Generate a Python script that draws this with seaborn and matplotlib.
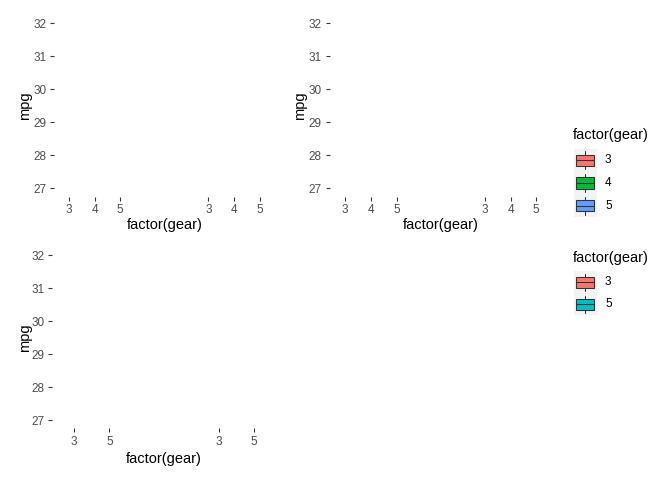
import matplotlib
matplotlib.use("Agg")
import matplotlib.pyplot as plt
import seaborn as sns
from matplotlib.patches import Rectangle

# ---- data ----
gear_levels_a = ["3", "4", "5"]
gear_levels_b = ["3", "5"]
mpg_ticks = [27, 28, 29, 30, 31, 32]
mpg_limits = (26.75, 32.25)
colors_a = ["#F8766D", "#00BA38", "#619CFF"]
colors_b = ["#F8766D", "#00BFC4"]
x_title = "factor(gear)"
y_title = "mpg"
legend_title = "factor(gear)"

sns.set_theme(style="white")
plt.rcParams["font.family"] = ["Liberation Sans", "DejaVu Sans"]

W, H = 672, 480
fig = plt.figure(figsize=(7, 5), dpi=96)
fig.patch.set_facecolor("white")

def px_axes(x0, x1, y0, y1, **kw):
    return fig.add_axes([x0 / W, 1 - y1 / H, (x1 - x0) / W, (y1 - y0) / H], **kw)

def style_panel(ax, levels, show_y):
    n = len(levels)
    ax.set_xlim(-0.6, n - 1 + 0.6)
    ax.set_ylim(*mpg_limits)
    ax.set_xticks(range(n))
    ax.set_xticklabels(levels)
    ax.set_facecolor("white")
    for s in ax.spines.values():
        s.set_visible(False)
    ax.tick_params(axis="both", which="both", length=2.75, width=0.8,
                   color="#333333", labelcolor="#4D4D4D", labelsize=8.8,
                   pad=3.0, direction="out", bottom=True, left=show_y)
    if show_y:
        ax.set_yticks(mpg_ticks)
        ax.set_yticklabels([str(v) for v in mpg_ticks])
    else:
        ax.set_yticks([])
    ax.grid(False)

def subplot(panels, y0, y1, levels, ylab_x, xlab_y):
    for i, (x0, x1) in enumerate(panels):
        ax = px_axes(x0, x1, y0, y1)
        style_panel(ax, levels, show_y=(i == 0))
    cx = (panels[0][0] + panels[-1][1]) / 2
    fig.text(cx / W, 1 - xlab_y / H, x_title, ha="center", va="center",
             fontsize=11, color="black")
    fig.text(ylab_x / W, 1 - ((y0 + y1) / 2) / H, y_title, ha="center",
             va="center", rotation=90, fontsize=11, color="black")

# top-left
subplot([(54, 135.5), (193, 275)], 15, 196.6, gear_levels_a, 25, 225)
# top-right
subplot([(329.6, 412), (469.6, 551.4)], 15, 196.6, gear_levels_a, 300, 225)
# bottom-left
subplot([(52, 131), (197.4, 275.6)], 246.75, 428.25, gear_levels_b, 25, 459.3)

# ---- legends ----
lax = fig.add_axes([0, 0, 1, 1])
lax.set_xlim(0, W)
lax.set_ylim(H, 0)
lax.axis("off")
lax.patch.set_alpha(0)

def draw_legend(title_y, first_key_y, key_h, levels, colors):
    kx0, kw = 574, 22.5
    lax.text(573, title_y, legend_title, ha="left", va="center",
             fontsize=11, color="black")
    top = first_key_y - key_h / 2
    lax.add_patch(Rectangle((kx0, top), kw, key_h * len(levels),
                            facecolor="#EBEBEB", edgecolor="none", alpha=0.6))
    for i, (lev, col) in enumerate(zip(levels, colors)):
        cy = first_key_y + i * key_h
        kt = cy - key_h / 2
        bx0 = kx0 + 0.1 * kw
        bw = 0.8 * kw
        # whiskers
        lax.plot([kx0 + kw / 2] * 2, [kt + 0.1 * key_h, kt + 0.25 * key_h],
                 color="#333333", lw=0.8)
        lax.plot([kx0 + kw / 2] * 2, [kt + 0.75 * key_h, kt + 0.9 * key_h],
                 color="#333333", lw=0.8)
        lax.add_patch(Rectangle((bx0, kt + 0.25 * key_h), bw, 0.5 * key_h,
                                facecolor=col, edgecolor="#333333", lw=0.8))
        lax.plot([bx0, bx0 + bw], [cy, cy], color="#333333", lw=0.8)
        lax.text(605, cy, lev, ha="left", va="center", fontsize=8.8,
                 color="black")

draw_legend(135, 160.3, 22.7, gear_levels_a, colors_a)
draw_legend(258.3, 282.3, 22.0, gear_levels_b, colors_b)

fig.savefig("out.png", dpi=96, facecolor="white")
